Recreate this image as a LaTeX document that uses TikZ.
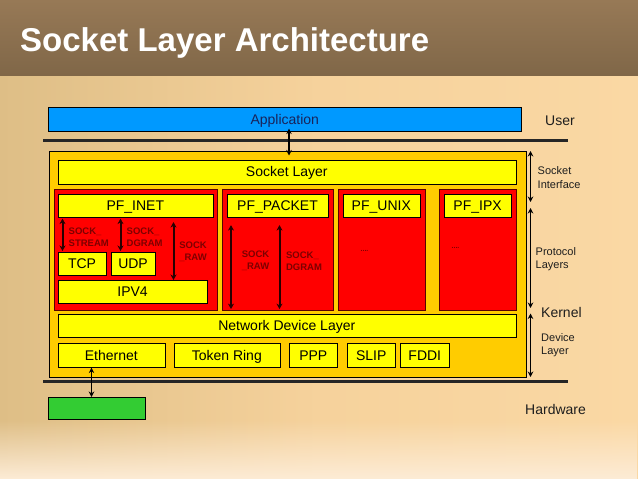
\documentclass[tikz,border=0pt]{standalone}
\usepackage{fontspec}
\setmainfont{Liberation Sans}
\usetikzlibrary{arrows.meta,fadings}
\definecolor{bandtop}{RGB}{151,121,86}
\definecolor{bandbot}{RGB}{128,103,72}
\definecolor{bgleft}{RGB}{222,190,134}
\definecolor{bgmid}{RGB}{246,210,156}
\definecolor{bgright}{RGB}{250,216,164}
\definecolor{bglow}{RGB}{253,236,214}
\definecolor{appblue}{RGB}{0,153,255}
\definecolor{appText}{RGB}{25,35,90}
\definecolor{outerY}{RGB}{255,204,0}
\definecolor{boxY}{RGB}{255,255,0}
\definecolor{boxR}{RGB}{255,0,0}
\definecolor{redEdge}{RGB}{90,0,0}
\definecolor{sockRed}{RGB}{125,0,0}
\definecolor{arrowDark}{RGB}{40,0,0}
\definecolor{hwGreen}{RGB}{51,204,51}
\definecolor{lblGray}{RGB}{30,30,30}
\tikzfading[name=fadebot, top color=transparent!100, bottom color=transparent!0]
\tikzset{
  ybox/.style={draw=black, line width=0.6pt, fill=boxY, inner sep=0pt, anchor=north west,
    font=\fontsize{14}{16}\selectfont, text height=10pt, text depth=0pt},
  rbox/.style={draw=redEdge, line width=0.6pt, fill=boxR, inner sep=0pt, anchor=north west},
  socklbl/.style={font=\fontsize{9.5}{11.6}\selectfont\bfseries, text=sockRed, inner sep=0pt},
  sidelbl/.style={font=\fontsize{14}{16}\selectfont, text=lblGray, inner sep=0pt, anchor=west,
    text height=10pt, text depth=0pt},
  sidesmall/.style={font=\fontsize{11}{13.3}\selectfont, text=lblGray, inner sep=0pt, anchor=west, align=left},
  dbl/.style={line width=2pt, draw=arrowDark, {Stealth[length=5.5pt,width=6pt]}-{Stealth[length=5.5pt,width=6pt]}},
  sdbl/.style={line width=1.6pt, draw=black, {Stealth[length=5.5pt,width=5.5pt]}-{Stealth[length=5.5pt,width=5.5pt]}},
  sepline/.style={line width=3pt, draw=black!85},
  dots/.style={font=\fontsize{7}{8}\selectfont\bfseries, text=sockRed, inner sep=0pt}
}
\begin{document}
\begin{tikzpicture}[x=1pt,y=-1pt]
\useasboundingbox (0,0) rectangle (638,479);
% background
\shade[left color=bgleft, right color=bgright, middle color=bgmid] (0,75) rectangle (638,479);
\fill[bglow, path fading=fadebot] (0,420) rectangle (638,479);
\shade[top color=bandtop, bottom color=bandbot] (0,0) rectangle (638,75);
\node[anchor=base west, inner sep=0pt, text=white, font=\fontsize{33}{38}\selectfont\bfseries] (title) at (20,51.5) {Socket Layer Architecture};

% application
\node[draw=black, line width=0.6pt, fill=appblue, inner sep=0pt, anchor=north west,
  minimum width=473pt, minimum height=24pt, text=appText, font=\fontsize{14}{16}\selectfont,
  text height=10pt, text depth=0pt] (app) at (48,107) {Application};
\coordinate (l1a) at (43,140.5);
\coordinate (l1b) at (568,140.5);
\draw[sepline] (l1a) -- (l1b);

% outer kernel box
\node[draw=black, line width=0.6pt, fill=outerY, inner sep=0pt, anchor=north west,
  minimum width=477pt, minimum height=226pt] (outer) at (48.5,151) {};

% socket layer
\node[ybox, minimum width=458pt, minimum height=24pt] (sock) at (57.5,159.5) {Socket Layer};

% red protocol family boxes
\node[rbox, minimum width=163pt, minimum height=121pt] (rinet) at (53.5,188.5) {};
\node[rbox, minimum width=111pt, minimum height=121pt] (rpkt) at (221.5,188.5) {};
\node[rbox, minimum width=87pt, minimum height=121pt] (runix) at (337.5,188.5) {};
\node[rbox, minimum width=77pt, minimum height=121pt] (ripx) at (438.5,188.5) {};

\node[ybox, minimum width=155pt, minimum height=23pt] (inet) at (57.5,193.5) {PF\_INET};
\node[ybox, minimum width=100.5pt, minimum height=23pt] (pkt) at (227,193.5) {PF\_PACKET};
\node[ybox, minimum width=77pt, minimum height=23pt] (unix) at (342.5,193.5) {PF\_UNIX};
\node[ybox, minimum width=67.5pt, minimum height=23pt] (ipx) at (443.5,193.5) {PF\_IPX};

\node[ybox, minimum width=48.5pt, minimum height=23.5pt] (tcp) at (57.5,251.5) {TCP};
\node[ybox, minimum width=43.5pt, minimum height=23.5pt] (udp) at (111,251.5) {UDP};
\node[ybox, minimum width=149.5pt, minimum height=23pt] (ipv4) at (57.5,280) {IPV4};

% socket type arrows
\coordinate (xs1) at (62.5,0);
\coordinate (xs2) at (120.5,0);
\coordinate (xs3) at (173.5,0);
\coordinate (xp1) at (231,0);
\coordinate (xp2) at (279.5,0);
\draw[dbl, shorten <=1.5pt, shorten >=0.5pt] (inet.south -| xs1) -- (tcp.north -| xs1);
\draw[dbl, shorten <=1.5pt, shorten >=0.5pt] (inet.south -| xs2) -- (udp.north -| xs2);
\draw[dbl, shorten <=5pt] (inet.south -| xs3) -- (ipv4.north -| xs3);
\draw[dbl, shorten <=8pt, shorten >=1pt] (pkt.south -| xp1) -- (rpkt.south -| xp1);
\draw[dbl, shorten <=8pt, shorten >=1pt] (pkt.south -| xp2) -- (rpkt.south -| xp2);

\node[socklbl, anchor=west, align=left] (lstream) at (68.5,237.5) {SOCK\_\\STREAM};
\node[socklbl, anchor=west, align=left] (ldgram) at (126.5,237.5) {SOCK\_\\DGRAM};
\node[socklbl, align=right] (lraw) at (193,252) {SOCK\\\_RAW};
\node[socklbl, align=right] (lpraw) at (255.5,261) {SOCK\\\_RAW};
\node[socklbl, align=left] (lpdgram) at (304,261) {SOCK\_\\DGRAM};
\node[dots] (d1) at (364.5,251) {....};
\node[dots] (d2) at (455.5,247.5) {....};

% device layer
\node[ybox, minimum width=458pt, minimum height=23pt] (ndl) at (57.5,314) {Network Device Layer};
\node[ybox, minimum width=107pt, minimum height=24pt] (eth) at (57.5,343) {Ethernet};
\node[ybox, minimum width=106pt, minimum height=24pt] (tok) at (173.5,343) {Token Ring};
\node[ybox, minimum width=48pt, minimum height=24pt] (ppp) at (289,343) {PPP};
\node[ybox, minimum width=48pt, minimum height=24pt] (slip) at (347,343) {SLIP};
\node[ybox, minimum width=49pt, minimum height=24pt] (fddi) at (400,343) {FDDI};

\coordinate (l2a) at (43,381.5);
\coordinate (l2b) at (568,381.5);
\draw[sepline] (l2a) -- (l2b);

% hardware
\node[draw=black, line width=0.6pt, fill=hwGreen, inner sep=0pt, anchor=north west,
  minimum width=97pt, minimum height=22pt] (hw) at (48,397) {};
\coordinate (xe) at (91.5,0);
\draw[sdbl] (eth.south -| xe) -- (hw.north -| xe);

% application to socket layer
\coordinate (xa) at (289,0);
\draw[sdbl, shorten <=-3pt, shorten >=4pt] (app.south -| xa) -- (sock.north -| xa);

% right side arrows
\coordinate (ra) at (530.5,151);
\coordinate (rb) at (530.5,202);
\coordinate (rc) at (530.5,208);
\coordinate (rd) at (530.5,308);
\coordinate (re) at (530.5,313.5);
\coordinate (rf) at (530.5,377);
\draw[sdbl] (ra) -- (rb);
\draw[sdbl] (rc) -- (rd);
\draw[sdbl] (re) -- (rf);

% right labels
\node[sidelbl] (user) at (545,120.5) {User};
\node[sidesmall] (sif) at (537.5,177.5) {Socket\\Interface};
\node[sidesmall] (plyr) at (535.5,259.5) {Protocol\\Layers};
\node[sidelbl] (kern) at (541,312) {Kernel};
\node[sidesmall] (dlyr) at (541,345.5) {Device\\Layer};
\node[sidelbl] (hwl) at (525,409) {Hardware};
\end{tikzpicture}
\end{document}
